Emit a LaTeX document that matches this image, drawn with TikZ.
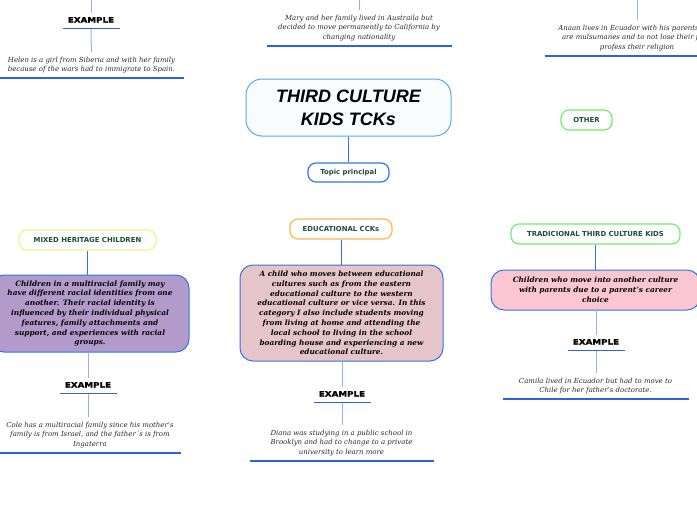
\documentclass[tikz,border=0pt]{standalone}
\usepackage{fontspec}
\setmainfont{DejaVu Serif}
\setsansfont{DejaVu Sans}
\newfontfamily\titlefont{Liberation Sans}
\newfontfamily\exfont{DejaVu Sans}[FakeStretch=1.2, FakeBold=1.3]
\usetikzlibrary{positioning}
\definecolor{cline}{HTML}{93B4F2}
\definecolor{cunder}{HTML}{2A62E6}
\definecolor{cedge}{HTML}{3472EA}
\definecolor{ctitle}{HTML}{5AA8E4}
\definecolor{cgreen}{HTML}{6EF06E}
\definecolor{cyellow}{HTML}{E8FB7E}
\definecolor{corange}{HTML}{FFB648}
\definecolor{cpurple}{HTML}{B29BCB}
\definecolor{cmauve}{HTML}{E5C5C9}
\definecolor{cpink}{HTML}{F9C6D1}
\definecolor{cdark}{HTML}{1F4D3C}
\tikzset{
  every picture/.style={x=1pt, y=-1pt, line width=1pt},
  pill/.style={draw=#1, fill=white, rounded corners=8pt, line width=1.2pt, minimum height=20pt,
    font=\sffamily\bfseries\fontsize{6.9}{7.5}\selectfont, text=cdark, inner sep=0pt},
  card/.style={draw=cedge, fill=#1, rounded corners=13pt, align=center, inner sep=0pt,
    font=\bfseries\itshape\fontsize{7.35}{9.8}\selectfont},
  example/.style={font=\exfont\bfseries\fontsize{7.3}{8}\selectfont, minimum width=56pt,
    inner xsep=0pt, inner ysep=4pt, text height=5pt, text depth=1.5pt},
  leaf/.style={anchor=north, align=center, inner xsep=0pt, inner ysep=4.3pt,
    font=\itshape\fontsize{6.95}{9.7}\selectfont, text=black!85},
  link/.style={draw=cline},
  branch/.style={draw=cedge},
  under/.style={draw=cunder, line width=1.5pt},
}

\begin{document}
\begin{tikzpicture}
  \useasboundingbox (0,0) rectangle (697,520);
  \clip (0,0) rectangle (697,520);
  % ---------- centre ----------
  \node[draw=ctitle, fill=ctitle!4, rounded corners=16pt, minimum width=205pt, minimum height=57pt,
    align=center, font=\titlefont\bfseries\itshape\fontsize{18}{23}\selectfont] (main) at (348.5,107.5)
    {THIRD CULTURE\\KIDS TCKs};
  \node[pill=cedge, minimum width=81pt, minimum height=19pt] (topic) at (348.5,172.5) {Topic principal};
  \draw[branch] (main) -- (topic);
  \node[pill=cgreen, minimum width=51pt] (other) at (586.5,120) {OTHER};
  % ---------- top row (examples above) ----------
  \coordinate (top1) at (91,0);
  \node[example] (ex0) at (91,20.75) {EXAMPLE};
  \node[leaf, minimum width=183pt] (helen) at (91.5,52)
    {Helen is a girl from Siberia and with her family\\because of the wars had to immigrate to Spain.};
  \draw[link] (top1) -- (ex0);
  \draw[link] (ex0) -- (helen);
  \draw[under] (ex0.south west) -- (ex0.south east);
  \draw[under] (helen.south west) -- (helen.south east);
  \coordinate (top2) at (359,0);
  \node[leaf, minimum width=184pt] (mary) at (359,10)
    {Mary and her family lived in Austraila but\\decided to move permanently to California by\\changing nationality};
  \draw[link] (top2) -- (mary);
  \draw[under] (mary.south west) -- (mary.south east);
  \coordinate (top3) at (637,0);
  \node[leaf, minimum width=184pt] (anaan) at (637,20)
    {Anaan lives in Ecuador with his parents who\\are mulsumanes and to not lose their faith\\profess their religion};
  \draw[link] (top3) -- (anaan);
  \draw[under] (anaan.south west) -- (anaan.south east);
  % ---------- mixed heritage ----------
  \node[pill=cyellow, minimum width=137pt] (mixed) at (87.5,240) {MIXED HERITAGE CHILDREN};
  \node[card=cpurple, minimum width=198pt, minimum height=77pt] (mixcard) at (90,313.5)
    {Children in a multiracial family may\\have different racial identities from one\\another. Their racial identity is\\influenced by their individual physical\\features, family attachments and\\support, and experiences with racial\\groups.};
  \node[example] (ex1) at (88,385.75) {EXAMPLE};
  \node[leaf, minimum width=180pt] (cole) at (90,417)
    {Cole has a multiracial family since his mother’s\\family is from Israel, and the father´s is from\\Ingaterra};
  \draw[branch] (mixed) -- (mixed |- mixcard.north);
  \draw[link] (mixcard.south -| ex1) -- (ex1);
  \draw[link] (ex1) -- (ex1 |- cole.north);
  \draw[under] (ex1.south west) -- (ex1.south east);
  \draw[under] (cole.south west) -- (cole.south east);
  % ---------- educational ----------
  \node[pill=corange, minimum width=102pt] (educ) at (341,229) {EDUCATIONAL CCKs};
  \node[card=cmauve, minimum width=203pt, minimum height=96pt] (educard) at (341.5,313)
    {A child who moves between educational\\cultures such as from the eastern\\educational culture to the western\\educational culture or vice versa. In this\\category I also include students moving\\from living at home and attending the\\local school to living in the school\\boarding house and experiencing a new\\educational culture.};
  \node[example] (ex2) at (342,394.75) {EXAMPLE};
  \node[leaf, minimum width=183pt] (diana) at (341.5,425)
    {Diana was studying in a public school in\\Brooklyn and had to change to a private\\university to learn more};
  \draw[branch] (educ) -- (educ |- educard.north);
  \draw[link] (educard.south -| ex2) -- (ex2);
  \draw[link] (ex2) -- (ex2 |- diana.north);
  \draw[under] (ex2.south west) -- (ex2.south east);
  \draw[under] (diana.south west) -- (diana.south east);
  % ---------- traditional ----------
  \node[pill=cgreen, minimum width=169pt] (trad) at (595.5,234) {TRADICIONAL THIRD CULTURE KIDS};
  \node[card=cpink, minimum width=209pt, minimum height=40pt] (tradcard) at (595.5,290)
    {Children who move into another culture\\with parents due to a parent’s career\\choice};
  \node[example] (ex3) at (596,342.75) {EXAMPLE};
  \node[leaf, minimum width=185pt] (camila) at (595.5,373)
    {Camila lived in Ecuador but had to move to\\Chile for her father’s doctorate.};
  \draw[branch] (trad) -- (trad |- tradcard.north);
  \draw[link] (tradcard.south -| ex3) -- (ex3);
  \draw[link] (ex3) -- (ex3 |- camila.north);
  \draw[under] (ex3.south west) -- (ex3.south east);
  \draw[under] (camila.south west) -- (camila.south east);
\end{tikzpicture}
\end{document}
